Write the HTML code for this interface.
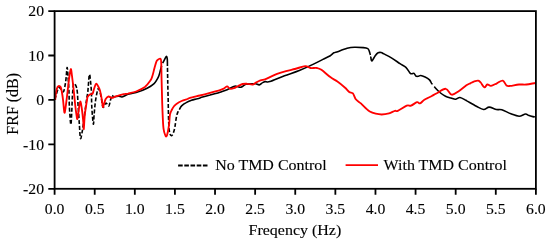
<!DOCTYPE html>
<html><head><meta charset="utf-8"><style>
html,body{margin:0;padding:0;background:#fff;width:550px;height:244px;overflow:hidden}
svg{display:block}
</style></head><body>
<svg width="550" height="244" viewBox="0 0 550 244"><rect width="550" height="244" fill="#fff"/><g fill="none" stroke-linejoin="round"><path d="M112.1 95.5C112.5 95.7 113.3 96.6 114.4 96.7C115.5 96.8 117.5 96.0 118.7 96.1C119.9 96.1 120.8 97.1 121.8 97.0C122.8 96.9 123.9 96.2 124.9 95.7C125.9 95.2 126.1 94.7 128.0 94.2C129.9 93.7 132.9 93.6 136.1 92.6C139.3 91.6 144.1 89.7 147.1 88.2C150.1 86.7 152.1 85.3 153.8 83.8C155.5 82.3 156.3 80.6 157.1 79.3C157.9 78.0 158.2 77.5 158.8 76.0C159.4 74.5 160.0 71.7 160.5 70.0C161.0 68.3 161.4 66.5 161.6 65.8" stroke="#000" stroke-width="1.6"/><path d="M179.3 109.6C179.7 109.0 180.4 107.1 181.6 105.9C182.8 104.7 184.5 103.5 186.2 102.6C187.8 101.7 189.9 100.9 191.5 100.3C193.1 99.7 194.6 99.4 196.0 99.0C197.4 98.6 197.7 98.6 200.0 97.9C202.3 97.2 206.7 96.0 210.0 95.1C213.3 94.1 217.2 93.1 220.0 92.2C222.8 91.3 224.8 90.8 227.1 89.8C229.4 88.8 232.2 87.1 233.8 86.5C235.4 85.9 235.6 86.2 236.5 86.3C237.4 86.4 238.5 87.0 239.3 87.1C240.1 87.2 240.4 87.6 241.5 87.1C242.6 86.6 244.2 84.8 246.0 84.3C247.8 83.8 250.9 83.9 252.6 83.8C254.2 83.7 254.8 83.6 255.9 83.8C257.0 84.0 258.2 85.1 259.3 84.9C260.4 84.7 261.6 83.1 262.6 82.6C263.6 82.0 264.1 81.8 265.3 81.6C266.5 81.4 266.6 82.6 269.8 81.6C273.0 80.6 279.6 77.5 284.5 75.7C289.4 73.9 294.4 72.5 299.3 70.5C304.2 68.5 310.1 65.8 314.0 63.9C317.9 62.0 320.2 60.8 322.9 59.4C325.6 58.0 328.5 56.8 330.3 55.7C332.1 54.6 332.8 53.4 333.9 52.8C335.0 52.2 334.6 52.8 336.8 52.0C339.0 51.2 344.2 49.1 347.1 48.3C350.1 47.5 351.8 47.3 354.5 47.2C357.2 47.1 361.2 47.4 363.4 47.6C365.6 47.8 366.8 48.0 367.8 48.6C368.8 49.2 368.9 50.2 369.3 51.3C369.7 52.4 370.2 54.4 370.4 55.0" stroke="#000" stroke-width="1.6"/><path d="M162.6 63.2C162.9 62.6 163.8 60.9 164.4 59.8C165.0 58.7 165.8 56.6 166.3 56.4C166.8 56.2 167.0 57.6 167.2 58.5C167.4 59.4 167.4 61.4 167.4 62.0" stroke="#000" stroke-width="1.6"/><path d="M371.0 58.0C371.0 57.9 370.7 56.7 370.8 57.2C370.9 57.7 371.2 61.1 371.9 60.9C372.6 60.6 374.2 57.1 375.2 55.7C376.2 54.4 377.1 53.3 378.1 52.8C379.1 52.3 380.1 52.3 381.1 52.5C382.1 52.7 382.3 53.0 384.0 53.9C385.7 54.8 388.7 56.3 391.4 57.9C394.1 59.5 397.6 62.1 400.0 63.7C402.4 65.3 404.2 65.8 405.9 67.4C407.6 69.0 409.2 72.3 410.3 73.3C411.4 74.3 411.9 73.6 412.5 73.6C413.1 73.6 413.4 72.9 414.0 73.3C414.6 73.7 415.4 75.7 416.2 76.2C416.9 76.7 417.8 76.3 418.5 76.2C419.2 76.1 419.6 75.4 420.7 75.5C421.8 75.6 423.6 76.3 425.1 77.0C426.6 77.7 428.4 78.8 429.5 79.9C430.6 81.0 431.2 82.9 431.7 83.6C432.2 84.3 432.5 84.2 432.6 84.3" stroke="#000" stroke-width="1.6"/><path d="M434.2 86.6C434.4 86.8 434.4 87.0 435.4 88.0C436.3 89.0 438.2 91.1 439.9 92.5C441.6 93.9 443.7 95.3 445.5 96.2C447.3 97.1 449.2 97.5 450.9 98.0C452.6 98.5 454.0 99.4 455.5 99.3C457.0 99.2 458.3 97.3 460.0 97.5C461.7 97.7 464.7 99.7 465.9 100.3C467.1 100.9 465.6 100.1 467.3 101.1C469.1 102.1 473.7 104.8 476.4 106.2C479.1 107.6 481.5 109.3 483.6 109.5C485.7 109.7 487.0 107.1 489.1 107.1C491.2 107.1 494.3 109.0 496.4 109.5C498.5 110.0 499.4 109.1 501.8 109.8C504.2 110.5 508.0 112.7 510.9 113.8C513.8 114.9 516.7 116.2 519.1 116.2C521.5 116.2 523.8 114.1 525.5 114.0C527.2 113.9 527.6 115.1 529.1 115.6C530.6 116.1 533.8 116.8 534.8 117.1" stroke="#000" stroke-width="1.6"/><path d="M54.9 99.5C55.1 98.7 55.8 96.2 56.3 94.5C56.8 92.8 57.5 90.4 58.0 89.2C58.5 88.0 58.9 87.6 59.4 87.6C59.9 87.6 60.4 88.3 61.0 89.0C61.6 89.7 62.3 91.5 62.8 91.8C63.3 92.0 63.6 91.8 64.0 90.5C64.4 89.2 64.9 86.2 65.3 84.0C65.7 81.8 65.9 79.8 66.2 77.0C66.5 74.2 66.8 67.7 67.1 67.5C67.4 67.3 67.7 71.9 68.0 76.0C68.3 80.1 68.8 86.8 69.0 92.0C69.2 97.2 69.1 101.6 69.4 107.0C69.7 112.4 70.4 123.3 70.8 124.6C71.2 125.9 71.3 119.8 71.6 115.0C71.9 110.2 72.1 101.1 72.4 96.0C72.7 90.9 73.1 86.5 73.4 84.5C73.7 82.5 74.0 83.8 74.4 84.0C74.8 84.2 75.5 84.7 76.0 86.0C76.5 87.3 76.9 88.5 77.3 92.0C77.7 95.5 77.8 101.5 78.2 107.0C78.6 112.5 79.0 119.8 79.4 125.0C79.8 130.2 80.0 137.7 80.5 138.5C81.0 139.3 81.8 133.9 82.5 130.0C83.2 126.1 83.8 120.0 84.5 115.0C85.2 110.0 86.0 103.8 86.5 100.0C87.0 96.2 87.4 95.8 87.8 92.0C88.2 88.2 88.7 79.9 89.0 77.0C89.3 74.1 89.5 74.1 89.7 74.6C89.9 75.1 90.1 77.1 90.4 80.0C90.7 82.9 91.2 87.5 91.4 92.0C91.6 96.5 91.5 101.7 91.8 107.0C92.1 112.3 92.9 122.7 93.3 124.0C93.7 125.3 93.8 118.6 94.1 115.0C94.4 111.4 94.8 106.5 95.3 102.5C95.8 98.5 96.9 93.0 97.4 90.7C97.9 88.4 98.0 88.6 98.4 88.8C98.8 89.0 99.4 89.8 100.0 92.0C100.6 94.2 101.5 99.4 102.0 102.0C102.5 104.6 102.5 107.3 103.2 107.5C103.9 107.7 105.1 103.2 106.0 103.0C106.9 102.8 108.0 106.5 108.8 106.0C109.5 105.5 110.0 101.8 110.5 100.0C111.0 98.2 111.8 96.2 112.1 95.5" stroke="#000" stroke-width="1.6" stroke-dasharray="4 2"/><path d="M167.4 62.0C167.4 65.0 167.6 73.7 167.7 80.0C167.8 86.3 168.0 93.3 168.2 100.0C168.3 106.7 168.4 115.0 168.6 120.0C168.8 125.0 168.9 127.6 169.2 130.0C169.5 132.4 169.8 133.6 170.2 134.5C170.6 135.4 171.2 135.8 171.8 135.5C172.4 135.2 173.0 133.9 173.5 132.5C174.0 131.1 174.4 129.8 174.9 127.0C175.4 124.2 176.0 118.7 176.6 116.0C177.2 113.3 178.0 111.8 178.3 111.0" stroke="#000" stroke-width="1.6" stroke-dasharray="4 2"/><path d="M55.2 99.8C55.4 98.5 55.8 94.3 56.1 92.2C56.5 90.1 56.8 88.3 57.3 87.3C57.8 86.2 58.5 86.0 59.0 85.9C59.5 85.9 60.1 86.1 60.6 87.0C61.1 87.9 61.4 89.3 61.8 91.5C62.2 93.7 62.7 96.9 63.1 100.4C63.5 103.9 64.0 111.2 64.4 112.5C64.8 113.8 65.1 110.4 65.5 108.0C65.9 105.6 66.4 101.3 66.8 98.0C67.2 94.7 67.6 91.5 68.0 88.0C68.4 84.5 68.8 80.2 69.3 77.0C69.8 73.8 70.3 69.2 70.8 69.0C71.2 68.8 71.5 72.2 72.0 76.0C72.5 79.8 73.4 87.3 73.9 92.0C74.4 96.7 74.7 100.2 75.1 104.0C75.5 107.8 76.1 112.5 76.5 115.0C76.9 117.5 77.0 119.3 77.3 119.0C77.6 118.7 77.8 115.9 78.3 113.0C78.8 110.1 79.6 102.1 80.2 101.6C80.8 101.1 81.5 106.6 82.0 110.0C82.5 113.4 83.0 118.8 83.3 122.0C83.6 125.2 83.5 130.2 83.8 129.0C84.0 127.8 84.3 119.8 84.8 115.0C85.3 110.2 86.5 103.1 87.0 100.0C87.5 96.9 87.2 97.6 87.8 96.6C88.3 95.6 89.5 94.7 90.3 94.2C91.1 93.7 92.0 94.7 92.6 93.8C93.2 92.9 93.4 90.7 94.0 89.0C94.6 87.3 95.5 83.9 96.3 83.6C97.0 83.3 97.8 85.7 98.5 87.0C99.2 88.3 99.7 89.4 100.2 91.4C100.7 93.4 101.2 96.4 101.7 99.0C102.2 101.6 102.5 106.2 102.9 107.0C103.3 107.8 103.5 105.3 104.0 104.0C104.5 102.7 105.0 100.2 105.7 99.0C106.5 97.8 107.5 96.7 108.5 96.5C109.5 96.3 110.7 97.9 111.9 97.9C113.1 97.9 114.2 96.9 115.6 96.4C116.9 96.0 118.7 95.6 120.0 95.2C121.3 94.8 122.4 94.5 123.7 94.2C125.0 93.9 125.9 94.0 128.0 93.6C130.1 93.1 133.3 92.6 136.1 91.5C138.9 90.4 142.5 88.9 144.9 87.1C147.3 85.2 149.2 82.2 150.5 80.4C151.8 78.6 151.7 78.1 152.4 76.0C153.1 73.9 153.8 70.5 154.5 68.0C155.2 65.5 156.0 62.6 156.6 61.2C157.2 59.8 157.6 59.9 158.2 59.5C158.8 59.1 159.9 58.3 160.4 58.7C160.9 59.1 161.0 58.5 161.2 62.0C161.4 65.5 161.4 73.2 161.6 80.0C161.8 86.8 162.0 96.3 162.2 103.0C162.4 109.7 162.7 115.7 162.9 120.0C163.1 124.3 163.2 126.6 163.6 129.0C163.9 131.4 164.5 133.3 165.0 134.5C165.5 135.7 165.9 136.8 166.4 136.4C166.9 136.0 167.4 134.0 167.8 132.0C168.2 130.0 168.7 127.4 169.1 124.5C169.5 121.6 169.5 116.9 170.0 114.4C170.5 111.9 171.3 110.9 172.0 109.5C172.7 108.1 173.7 106.7 174.4 105.8C175.1 104.9 175.2 104.7 176.4 103.9C177.6 103.1 179.8 101.8 181.6 101.0C183.4 100.2 186.1 99.5 187.5 99.0C188.9 98.5 187.9 98.5 190.0 97.9C192.1 97.3 196.7 96.3 200.0 95.5C203.3 94.7 206.7 93.8 210.0 92.9C213.3 92.0 217.7 90.8 220.0 90.1C222.3 89.4 222.8 89.1 224.0 88.5C225.2 87.9 226.1 86.4 227.1 86.4C228.1 86.4 228.8 88.4 229.9 88.7C231.0 89.0 232.4 88.7 233.8 88.2C235.2 87.8 236.7 86.7 238.2 86.0C239.7 85.3 241.2 84.4 242.7 84.0C244.2 83.6 245.4 83.7 247.1 83.8C248.8 83.9 251.1 84.8 252.6 84.6C254.1 84.4 254.6 83.3 255.9 82.6C257.2 81.9 258.9 81.0 260.4 80.4C261.9 79.9 263.4 79.8 265.0 79.3C266.6 78.8 267.8 78.0 269.8 77.1C271.8 76.2 274.4 74.9 277.1 73.9C279.8 72.9 283.0 72.0 286.0 71.2C289.0 70.4 291.7 69.8 294.9 69.0C298.1 68.2 302.6 66.3 305.2 66.1C307.8 65.9 308.4 67.7 310.4 68.0C312.4 68.3 315.2 67.7 317.0 68.0C318.8 68.3 319.2 68.3 321.4 69.8C323.6 71.3 327.6 75.1 330.3 77.1C333.0 79.1 335.0 79.9 337.4 81.6C339.8 83.3 342.8 85.8 344.8 87.5C346.8 89.2 347.9 90.9 349.2 91.9C350.5 92.9 351.8 92.2 352.9 93.4C354.0 94.6 354.5 97.6 355.8 99.3C357.1 101.0 359.3 102.0 360.9 103.4C362.5 104.8 363.8 106.5 365.3 107.8C366.8 109.1 368.1 110.5 369.8 111.5C371.5 112.5 373.7 113.2 375.7 113.7C377.7 114.2 379.4 114.5 381.6 114.5C383.8 114.5 386.8 114.0 389.0 113.4C391.2 112.8 393.4 111.2 394.9 110.8C396.4 110.4 395.8 111.7 397.8 110.8C399.8 109.9 404.5 106.5 406.7 105.6C408.9 104.7 409.4 106.2 411.1 105.6C412.8 105.0 415.5 102.6 417.0 102.2C418.5 101.8 418.8 103.8 420.0 103.4C421.2 103.0 422.9 100.7 424.4 99.7C425.9 98.7 427.6 98.1 428.8 97.5C430.0 96.9 430.5 96.7 431.8 96.0C433.1 95.3 434.6 94.4 436.9 93.2C439.2 92.0 443.3 88.5 445.8 88.8C448.3 89.0 449.5 94.3 451.7 94.7C453.9 95.1 456.6 92.6 459.0 91.0C461.4 89.4 464.5 86.6 466.4 85.3C468.3 84.0 469.1 83.9 470.3 83.3C471.5 82.7 472.5 82.0 473.8 81.6C475.1 81.2 477.1 80.5 478.2 80.7C479.3 80.9 479.7 81.4 480.7 82.5C481.7 83.6 483.3 87.1 484.4 87.4C485.5 87.7 486.2 84.8 487.3 84.5C488.4 84.2 489.4 86.1 491.0 85.9C492.6 85.7 494.9 84.2 496.9 83.3C498.9 82.4 501.2 80.2 502.8 80.6C504.4 81.0 505.3 84.6 506.5 85.5C507.7 86.4 508.1 86.1 510.2 85.9C512.3 85.7 516.3 84.7 519.0 84.5C521.7 84.3 523.7 84.8 526.4 84.5C529.1 84.2 533.8 83.2 535.3 83.0" stroke="#f00" stroke-width="1.85"/></g><rect x="54.6" y="11.1" width="481.29999999999995" height="177.70000000000002" fill="none" stroke="#000" stroke-width="1.8"/><path d="M48.3 11.10H54.6 M48.3 55.52H54.6 M48.3 99.95H54.6 M48.3 144.38H54.6 M48.3 188.80H54.6 M54.60 188.8V194.8 M94.71 188.8V194.8 M134.82 188.8V194.8 M174.92 188.8V194.8 M215.03 188.8V194.8 M255.14 188.8V194.8 M295.25 188.8V194.8 M335.36 188.8V194.8 M375.47 188.8V194.8 M415.57 188.8V194.8 M455.68 188.8V194.8 M495.79 188.8V194.8 M535.90 188.8V194.8" stroke="#000" stroke-width="1.8" fill="none"/><g font-family="Liberation Serif, serif" font-size="15.2" fill="#000" stroke="#000" stroke-width="0.12"><text transform="translate(44,16.3) scale(1.035,1)" text-anchor="end">20</text><text transform="translate(44,60.7) scale(1.035,1)" text-anchor="end">10</text><text transform="translate(44,105.2) scale(1.035,1)" text-anchor="end">0</text><text transform="translate(44,149.6) scale(1.035,1)" text-anchor="end">-10</text><text transform="translate(44,194.0) scale(1.035,1)" text-anchor="end">-20</text><text transform="translate(54.60,213.7) scale(1.035,1)" text-anchor="middle">0.0</text><text transform="translate(94.71,213.7) scale(1.035,1)" text-anchor="middle">0.5</text><text transform="translate(134.82,213.7) scale(1.035,1)" text-anchor="middle">1.0</text><text transform="translate(174.92,213.7) scale(1.035,1)" text-anchor="middle">1.5</text><text transform="translate(215.03,213.7) scale(1.035,1)" text-anchor="middle">2.0</text><text transform="translate(255.14,213.7) scale(1.035,1)" text-anchor="middle">2.5</text><text transform="translate(295.25,213.7) scale(1.035,1)" text-anchor="middle">3.0</text><text transform="translate(335.36,213.7) scale(1.035,1)" text-anchor="middle">3.5</text><text transform="translate(375.47,213.7) scale(1.035,1)" text-anchor="middle">4.0</text><text transform="translate(415.57,213.7) scale(1.035,1)" text-anchor="middle">4.5</text><text transform="translate(455.68,213.7) scale(1.035,1)" text-anchor="middle">5.0</text><text transform="translate(495.79,213.7) scale(1.035,1)" text-anchor="middle">5.5</text><text transform="translate(535.90,213.7) scale(1.035,1)" text-anchor="middle">6.0</text><text transform="translate(294.9,234.6) scale(1.065,1)" font-size="15.0" text-anchor="middle">Freqency (Hz)</text><text transform="translate(18.2,103.8) rotate(-90) scale(1.0,1)" font-size="16.0" text-anchor="middle">FRF (dB)</text><text transform="translate(215.2,170.3) scale(1.065,1)" font-size="15.0">No TMD Control</text><text transform="translate(383.6,170.3) scale(1.065,1)" font-size="15.0">With TMD Control</text></g><path d="M178.1 165.6H208" stroke="#000" stroke-width="2" stroke-dasharray="4.6 1.6"/><path d="M345.6 165.2H378" stroke="#f00" stroke-width="1.8"/></svg>
</body></html>
